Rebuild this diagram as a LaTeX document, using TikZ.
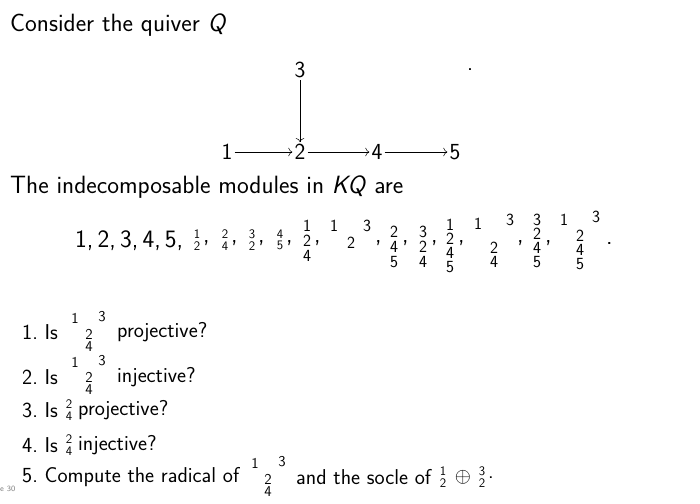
\documentclass[tikz,border=0pt]{standalone}
\usepackage{amssymb}
\usepackage{fontspec}
\usetikzlibrary{arrows.meta}
\begin{document}
\begin{tikzpicture}[x=1pt,y=-1pt,
  txt/.style={anchor=west,inner sep=0pt,font=\sffamily\fontsize{25}{28}\selectfont},
  itm/.style={anchor=west,inner sep=0pt,font=\sffamily\fontsize{21.5}{24}\selectfont},
  dg/.style={inner sep=0pt,font=\sffamily\fontsize{17}{18}\selectfont},
  dgs/.style={inner sep=0pt,font=\sffamily\fontsize{15}{16}\selectfont},
  fr/.style={inner sep=0pt,align=center,font=\sffamily\fontsize{13}{11.5}\selectfont},
  qv/.style={inner sep=2pt,font=\sffamily\fontsize{23}{26}\selectfont},
  arr/.style={-{To[length=4pt]},line width=0.5pt}]
\useasboundingbox (0,0) rectangle (700,503);
\node[txt] (t1) at (10,25) {Consider the quiver \textit{Q}};
% quiver
\node[qv] (q3) at (300,70) {3};
\node[qv] (q2) at (300,152) {2};
\node[qv] (q1) at (227,152) {1};
\node[qv] (q4) at (377,152) {4};
\node[qv] (q5) at (455,152) {5};
\node[qv] (qd) at (470,70) {.};
\draw[arr] (q3) -- (q2);
\draw[arr] (q1) -- (q2);
\draw[arr] (q2) -- (q4);
\draw[arr] (q4) -- (q5);
\node[txt] (t2) at (10,187) {The indecomposable modules in \textit{KQ} are};
% module list
\node[txt] (l0) at (75,241) {1,\,2,\,3,\,4,\,5,};
\node[fr] (f1) at (197,240) {1\\2};  \node[txt] (c1) at (203,243) {,};
\node[fr] (f2) at (225,240) {2\\4};  \node[txt] (c2) at (231,243) {,};
\node[fr] (f3) at (252,240) {3\\2};  \node[txt] (c3) at (258,243) {,};
\node[fr] (f4) at (280,240) {4\\5};  \node[txt] (c4) at (286,243) {,};
\node[dg] (a1) at (307,226) {1}; \node[dg] (a2) at (307,241) {2}; \node[dg] (a3) at (307,256) {4};
\node[txt] (c5) at (314,243) {,};
\node[dg] (b1) at (334,226) {1}; \node[dg] (b2) at (351,243) {2}; \node[dg] (b3) at (367,226) {3};
\node[txt] (c6) at (375,243) {,};
\node[dg] (d1) at (394,232) {2}; \node[dg] (d2) at (394,247) {4}; \node[dg] (d3) at (394,262) {5};
\node[txt] (c7) at (402,243) {,};
\node[dg] (e1) at (423,232) {3}; \node[dg] (e2) at (423,247) {2}; \node[dg] (e3) at (423,262) {4};
\node[txt] (c8) at (431,243) {,};
\node[dg] (g1) at (450,225) {1}; \node[dg] (g2) at (450,239) {2}; \node[dg] (g3) at (450,253) {4}; \node[dg] (g4) at (450,267) {5};
\node[txt] (c9) at (458,243) {,};
\node[dg] (h1) at (478,224) {1}; \node[dg] (h2) at (494,248) {2}; \node[dg] (h3) at (494,262) {4}; \node[dg] (h4) at (510,220) {3};
\node[txt] (c10) at (517,243) {,};
\node[dg] (i1) at (537,220) {3}; \node[dg] (i2) at (537,234) {2}; \node[dg] (i3) at (537,248) {4}; \node[dg] (i4) at (537,262) {5};
\node[txt] (c11) at (545,243) {,};
\node[dg] (j1) at (564,220) {1}; \node[dg] (j2) at (580,236) {2}; \node[dg] (j3) at (580,250) {4}; \node[dg] (j4) at (580,264) {5}; \node[dg] (j5) at (596,217) {3};
\node[txt] (c12) at (606,243) {.};
% questions
\node[itm] (n1) at (22,332) {1.\ Is};
\node[dgs] (p1) at (75,318) {1}; \node[dgs] (p2) at (89,334) {2}; \node[dgs] (p3) at (89,347) {4}; \node[dgs] (p4) at (102,317) {3};
\node[itm] (n1b) at (117,332) {projective?};
\node[itm] (n2) at (22,377) {2.\ Is};
\node[dgs] (r1) at (75,362) {1}; \node[dgs] (r2) at (89,377) {2}; \node[dgs] (r3) at (89,390) {4}; \node[dgs] (r4) at (102,361) {3};
\node[itm] (n2b) at (117,377) {injective?};
\node[itm] (n3) at (22,410) {3.\ Is};
\node[fr] (s1) at (69,410) {2\\4};
\node[itm] (n3b) at (78,410) {projective?};
\node[itm] (n4) at (22,445) {4.\ Is};
\node[fr] (s2) at (69,445) {2\\4};
\node[itm] (n4b) at (78,445) {injective?};
\node[itm] (n5) at (22,477) {5.\ Compute the radical of};
\node[dgs] (u1) at (255,463) {1}; \node[dgs] (u2) at (268,479) {2}; \node[dgs] (u3) at (268,492) {4}; \node[dgs] (u4) at (282,462) {3};
\node[itm] (n5b) at (296,477) {and the socle of};
\node[fr] (s3) at (443,477) {1\\2};
\node[inner sep=0pt,font=\fontsize{21}{24}\selectfont] (op) at (463,477) {$\oplus$};
\node[fr] (s4) at (482,477) {3\\2};
\node[itm] (n5c) at (488,478) {.};
\node[inner sep=0pt,anchor=west,font=\sffamily\fontsize{8}{9}\selectfont,text=gray] (pg) at (0,489) {e 30};
\end{tikzpicture}
\end{document}
